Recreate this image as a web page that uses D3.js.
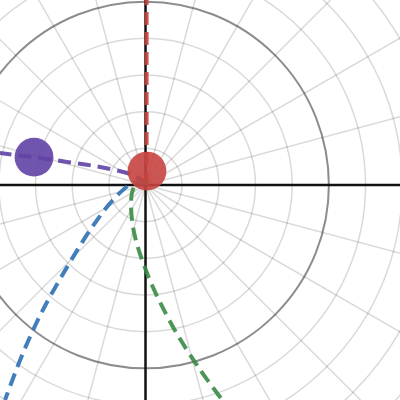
<!DOCTYPE html>
<html><head><meta charset="utf-8">
<script src="https://cdn.jsdelivr.net/npm/d3@7"></script>
<style>body{margin:0;background:#fff}svg{display:block}</style>
</head><body>
<svg id="chart" width="400" height="400"></svg>
<script>
// curve points in graph units (x, y)
var purplePts = [[0,0],[-0.01,0.05],[-0.34,0.27],[-1.24,0.49],[-2.14,0.63],[-3.07,0.76],[-3.97,0.87]];
var bluePts = [[0,0],[-0.01,0.03],[-0.34,0.05],[-0.89,-0.41],[-1.51,-1.23],[-2.14,-2.24],[-2.80,-3.41],[-3.34,-4.58],[-3.83,-5.86]];
var greenPts = [[0,0],[0.04,0.08],[-0.12,0.11],[-0.23,0.05],[-0.37,-0.22],[-0.34,-1.15],[0.04,-2.40],[0.75,-3.87],[1.49,-5.04],[2.09,-5.86]];
var redPts = [[0.03,0],[0.03,5.1]];
var dots = [{x:0.04, y:0.38, c:"#c74440"}, {x:-3.04, y:0.76, c:"#6042a6"}];
var gridRadii = [1,2,3,4,6,7,8,9,10,11];
var mainRadius = 5;
var angleStep = 15;

var svg = d3.select("#chart");
var x = d3.scaleLinear().domain([-3.968, 6.94]).range([0, 400]);
var y = d3.scaleLinear().domain([-5.863, 5.045]).range([400, 0]);
var k = x(1) - x(0);

// polar grid
var g = svg.append("g");
gridRadii.forEach(function(r){
	g.append("circle").attr("cx", x(0)).attr("cy", y(0)).attr("r", r*k)
		.attr("fill","none").attr("stroke","#000").attr("stroke-opacity",0.15).attr("stroke-width",1.5);
});
d3.range(0, 360, angleStep).forEach(function(a){
	if (a % 90 === 0) return;
	var t = a*Math.PI/180;
	g.append("line").attr("x1", x(0)).attr("y1", y(0))
		.attr("x2", x(15*Math.cos(t))).attr("y2", y(15*Math.sin(t)))
		.attr("stroke","#000").attr("stroke-opacity",0.15).attr("stroke-width",1.5);
});
g.append("circle").attr("cx", x(0)).attr("cy", y(0)).attr("r", mainRadius*k)
	.attr("fill","none").attr("stroke","#000").attr("stroke-opacity",0.45).attr("stroke-width",2);

// axes
svg.append("line").attr("x1",0).attr("x2",400).attr("y1",y(0)).attr("y2",y(0)).attr("stroke","#111").attr("stroke-width",2.5);
svg.append("line").attr("y1",0).attr("y2",400).attr("x1",x(0)).attr("x2",x(0)).attr("stroke","#111").attr("stroke-width",2.5);

var line = d3.line().x(function(d){return x(d[0]);}).y(function(d){return y(d[1]);}).curve(d3.curveCatmullRom);
[[redPts,"#c74440"],[purplePts,"#6042a6"],[bluePts,"#2d70b3"],[greenPts,"#388c46"]].forEach(function(s){
	svg.append("path").attr("d", line(s[0])).attr("fill","none").attr("stroke",s[1])
		.attr("stroke-opacity",0.9).attr("stroke-width",4).attr("stroke-dasharray","13,7");
});

svg.selectAll(".dot").data(dots).enter().append("circle")
	.attr("cx", function(d){return x(d.x);}).attr("cy", function(d){return y(d.y);})
	.attr("r", 0.53*k).attr("fill", function(d){return d.c;}).attr("fill-opacity",0.9);
</script>
</body></html>
